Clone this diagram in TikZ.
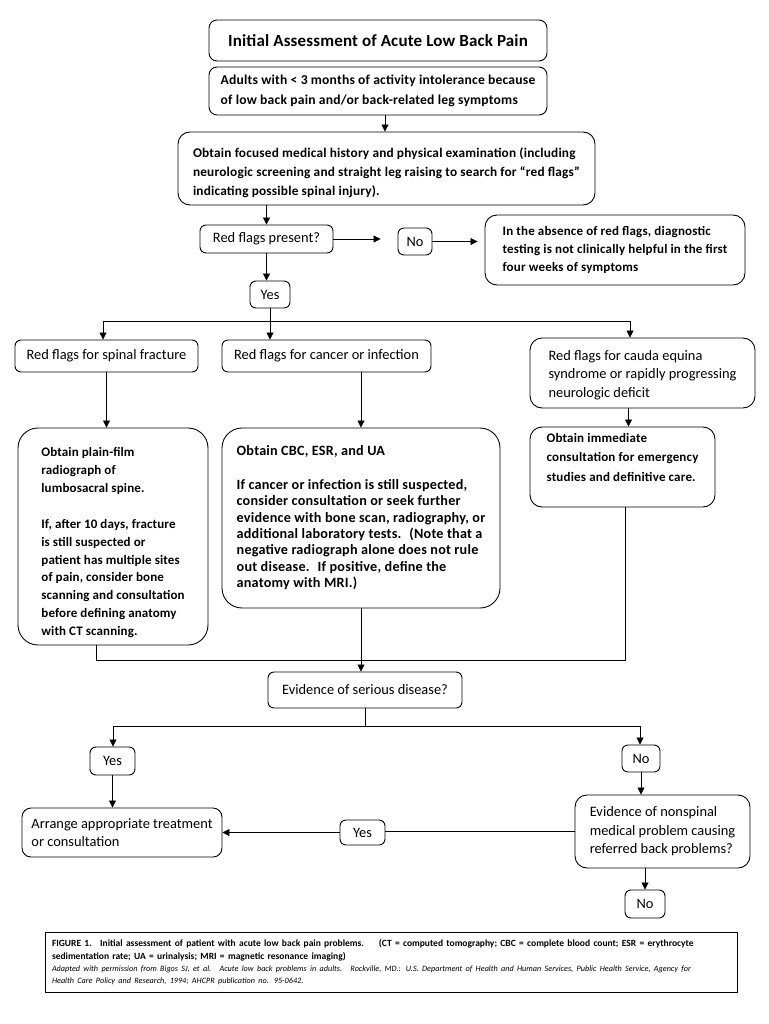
\documentclass[tikz,border=0pt]{standalone}
\usepackage{fontspec}
\setmainfont{Carlito}
\newfontfamily\lsfont[LetterSpace=1.5]{Carlito}
\newfontfamily\lsfontb[LetterSpace=1.0]{Carlito}
\usetikzlibrary{arrows.meta,calc}
\newcommand\boxnode[7]{\node[#1, minimum width={#5-#3}, minimum height={#6-#4}] (#2) at ({(#3+#5)/2},{(#4+#6)/2}) {#7};}
\newcommand\tup[1]{\rule{0pt}{#1}}
\begin{document}
\begin{tikzpicture}[x=1pt,y=-1pt,
  box/.style={draw, rounded corners=6pt, line width=0.9pt, inner sep=0pt, align=left},
  midbox/.style={box, rounded corners=12pt},
  bigbox/.style={box, rounded corners=20pt},
  bts/.style 2 args={font=\lsfont\bfseries\fontsize{#1}{#2}\selectfont},
  rt/.style={font=\fontsize{14.4}{18.5}\selectfont},
  conn/.style={line width=0.8pt},
  arr/.style={conn, -{Triangle[length=7pt,width=7pt]}}]
\useasboundingbox[fill=white] (0,0) rectangle (768,1024);

% boxes
\boxnode{box, rounded corners=8pt, font=\lsfontb\bfseries\fontsize{17}{18}\selectfont}{title}{209}{20}{547}{61}{Initial Assessment of Acute Low Back Pain}
\boxnode{box, rounded corners=8pt, bts={13.6}{20}}{adults}{209}{67}{547}{115}{Adults with < 3 months of activity intolerance because\\of low back pain and/or back-related leg symptoms}
\boxnode{midbox, bts={13.3}{19}}{hist}{178}{132}{595}{205}{\tup{18pt}Obtain focused medical history and physical examination (including\\neurologic screening and straight leg raising to search for “red flags”\\indicating possible spinal injury).}
\boxnode{box, rt}{rfp}{200}{225}{333}{253}{Red flags present?}
\boxnode{box, rt}{no1}{398}{228}{432}{255}{No}
\boxnode{midbox, bts={13}{18}}{absence}{485}{215}{745}{285}{In the absence of red flags, diagnostic\\testing is not clinically helpful in the first\\four weeks of symptoms}
\boxnode{box, rt}{yes1}{250}{281}{290}{308}{Yes}

\boxnode{box, rt}{rfsf}{15}{340}{198}{372}{Red flags for spinal fracture}
\boxnode{box, rt}{rfci}{222}{340}{431}{372}{Red flags for cancer or infection}
\boxnode{midbox, rt}{cauda}{530}{338}{755}{408}{\tup{14pt}Red flags for cauda equina\\syndrome or rapidly progressing\\neurologic deficit}

\boxnode{bigbox, font=\lsfontb\bfseries\fontsize{13}{17.9}\selectfont}{plain}{18}{428}{208}{645}{\tup{21.5pt}Obtain plain-film\\radiograph of\\lumbosacral spine.\\[17.9pt]If, after 10 days, fracture\\is still suspected or\\patient has multiple sites\\of pain, consider bone\\scanning and consultation\\before defining anatomy\\with CT scanning.}
\boxnode{bigbox, bts={14.2}{16.4}}{cbc}{222}{428}{500}{608}{Obtain CBC, ESR, and UA\\[17pt]If cancer or infection is still suspected,\\consider consultation or seek further\\evidence with bone scan, radiography, or\\additional laboratory tests.~ (Note that a\\negative radiograph alone does not rule\\out disease.~ If positive, define the\\anatomy with MRI.)}
\boxnode{midbox, bts={13}{19.5}}{imm}{530}{427}{715}{507}{Obtain immediate\\consultation for emergency\\studies and definitive care.\\\mbox{}}

\boxnode{box, rt}{evid}{268}{672}{462}{708}{Evidence of serious disease?}
\boxnode{box, rt}{yes2}{90}{747}{135}{775}{Yes}
\boxnode{box, rt}{no2}{622}{745}{660}{772}{No}
\boxnode{box, rounded corners=9pt, rt}{arrange}{22}{808}{222}{857}{Arrange appropriate treatment\\or consultation}
\boxnode{midbox, rt}{nonsp}{575}{795}{750}{868}{Evidence of nonspinal\\medical problem causing\\referred back problems?}
\boxnode{box, rt}{yes3}{340}{820}{385}{845}{Yes}
\boxnode{box, rt}{no3}{625}{890}{665}{918}{No}

\node[draw, line width=0.7pt, inner xsep=7pt, inner ysep=0pt, text width=678pt, align=left, minimum height=60pt] (cap) at (391,962) {%
{\bfseries\fontsize{9.5}{13}\selectfont FIGURE 1.~ Initial assessment of patient with acute low back pain problems.~~~ (CT = computed tomography; CBC = complete blood count; ESR = erythrocyte\\sedimentation rate; UA = urinalysis; MRI = magnetic resonance imaging)\par}%
{\itshape\fontsize{8.2}{12}\selectfont Adapted with permission from Bigos SJ, et al.~ Acute low back problems in adults.~ Rockville, MD.: U.S. Department of Health and Human Services, Public Health Service, Agency for\\Health Care Policy and Research, 1994; AHCPR publication no. 95-0642.\par}};

% connector points
\coordinate (sL) at (103,321);
\coordinate (sR) at (630,321);
\coordinate (mL) at (96,660);
\coordinate (mR) at (625,660);
\coordinate (eL) at (113,726);
\coordinate (eR) at (640,726);

% connectors
\draw[arr] ([xshift=7pt]adults.south) -- ([xshift=7pt]adults.south |- hist.north);
\draw[arr] (rfp.north |- hist.south) -- (rfp.north);
\draw[arr, shorten >=17pt] (rfp.east) -- (no1.west |- rfp.east);
\draw[arr, shorten >=7pt] (no1.east) -- (no1.east -| absence.west);
\draw[arr] (rfp.south) -- (rfp.south |- yes1.north);
\draw[conn] (yes1.south) -- (yes1.south |- sL);
\draw[conn] (sL) -- (sR);
\draw[arr] (sL) -- (sL |- rfsf.north);
\draw[arr] (yes1.south |- sL) -- (yes1.south |- rfci.north);
\draw[arr] (sR) -- (sR |- cauda.north);
\draw[arr] (rfsf.south) -- (rfsf.south |- plain.north);
\draw[arr] (cbc.north |- rfci.south) -- (cbc.north);
\draw[arr] ([xshift=-14pt]cauda.south) -- ([xshift=-14pt]cauda.south |- imm.north);
\draw[conn] (mL |- plain.south) -- (mL) -- (mR) -- (mR |- imm.south);
\draw[arr] (cbc.south) -- (cbc.south |- evid.north);
\draw[conn] (evid.south) -- (evid.south |- eL);
\draw[conn] (eL) -- (eR);
\draw[arr] (eL) -- (eL |- yes2.north);
\draw[arr] (eR) -- (eR |- no2.north);
\draw[arr] (yes2.south) -- (yes2.south |- arrange.north);
\draw[arr] (no2.south) -- (no2.south |- nonsp.north);
\draw[conn] (nonsp.west) -- (nonsp.west -| yes3.east);
\draw[arr] (yes3.west) -- (yes3.west -| arrange.east);
\draw[arr] (no3.north |- nonsp.south) -- (no3.north);
\end{tikzpicture}
\end{document}
